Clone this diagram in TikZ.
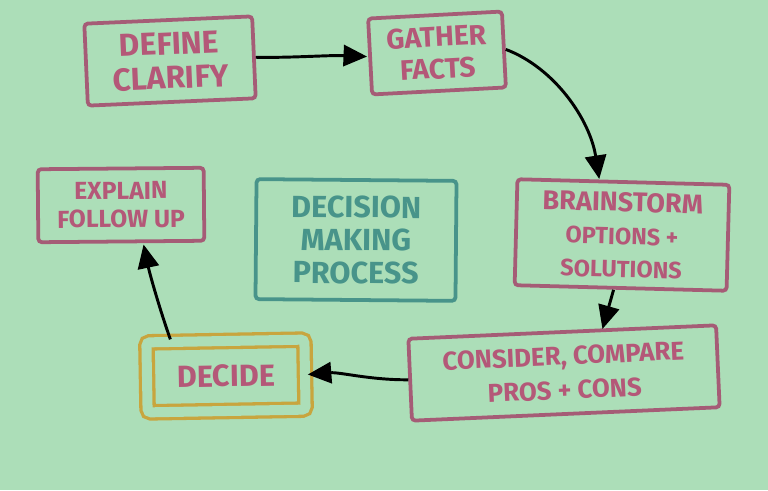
\documentclass[tikz,border=0pt]{standalone}
\usepackage{fontspec}
\setmainfont{Fira Sans}
\usetikzlibrary{arrows.meta}
\definecolor{bg}{RGB}{172,222,184}
\definecolor{mauve}{RGB}{165,92,118}
\definecolor{mauvetext}{RGB}{180,88,120}
\definecolor{tealc}{RGB}{72,148,138}
\definecolor{ochre}{RGB}{200,165,62}
\tikzset{
  box/.style={draw=mauve, line width=3.2pt, rounded corners=3pt, text=mauvetext,
    align=center, inner sep=0pt},
  arr/.style={draw=black, line width=2.5pt,
    -{Triangle[length=20pt,width=18pt]}, shorten >=1pt}
}
\newcommand{\fs}[2]{\fontsize{#1}{#2}\selectfont\bfseries}
\begin{document}
\begin{tikzpicture}[x=0.85pt,y=-0.85pt]
\fill[bg] (0,0) rectangle (768,490);
\useasboundingbox (0,0) rectangle (768,490);

\node[box, rotate=2.5, minimum width={168*0.85pt}, minimum height={82*0.85pt},
  font=\fs{27}{29}] (define) at (170,61) {DEFINE\\CLARIFY};
\node[box, rotate=3, minimum width={134*0.85pt}, minimum height={76*0.85pt},
  font=\fs{24}{27}] (gather) at (437,53) {GATHER\\FACTS};
\node[box, rotate=-1.5, minimum width={212*0.85pt}, minimum height={106*0.85pt},
  font=\fs{20}{28}] (brain) at (622,235)
  {{\fs{23}{28}BRAINSTORM}\\OPTIONS +\\SOLUTIONS};
\node[box, draw=tealc, text=tealc, rotate=-0.5, minimum width={200*0.85pt},
  minimum height={120*0.85pt}, font=\fs{26}{28}] (dmp) at (356,240)
  {DECISION\\MAKING\\PROCESS};
\node[box, rotate=0.5, minimum width={166*0.85pt}, minimum height={73*0.85pt},
  font=\fs{21}{24}] (explain) at (121,205) {EXPLAIN\\FOLLOW UP};
\node[box, draw=ochre, double=bg, double distance={10*0.85pt}, line width=2.8pt,
  rotate=1, minimum width={158*0.85pt}, minimum height={70*0.85pt},
  font=\fs{26}{28}] (decide) at (226,376) {DECIDE};
\node[box, rotate=2.5, minimum width={308*0.85pt}, minimum height={82*0.85pt},
  font=\fs{22}{29}] (consider) at (564,373) {CONSIDER, COMPARE\\PROS + CONS};

\draw[arr] (define.east) .. controls (290,58) and (330,55) .. (gather.west);
\draw[arr] (gather.east) .. controls (555,68) and (590,120) .. ([xshift={-24*0.85pt}]brain.north);
\draw[arr] ([xshift={-7*0.85pt}]brain.south) -- ([xshift={40*0.85pt}]consider.north);
\draw[arr] (consider.west) .. controls (370,380) and (340,372) .. (decide.east);
\draw[arr] ([xshift={-55*0.85pt}]decide.north) .. controls (160,310) and (150,275) .. ([xshift={22*0.85pt}]explain.south);
\end{tikzpicture}
\end{document}
